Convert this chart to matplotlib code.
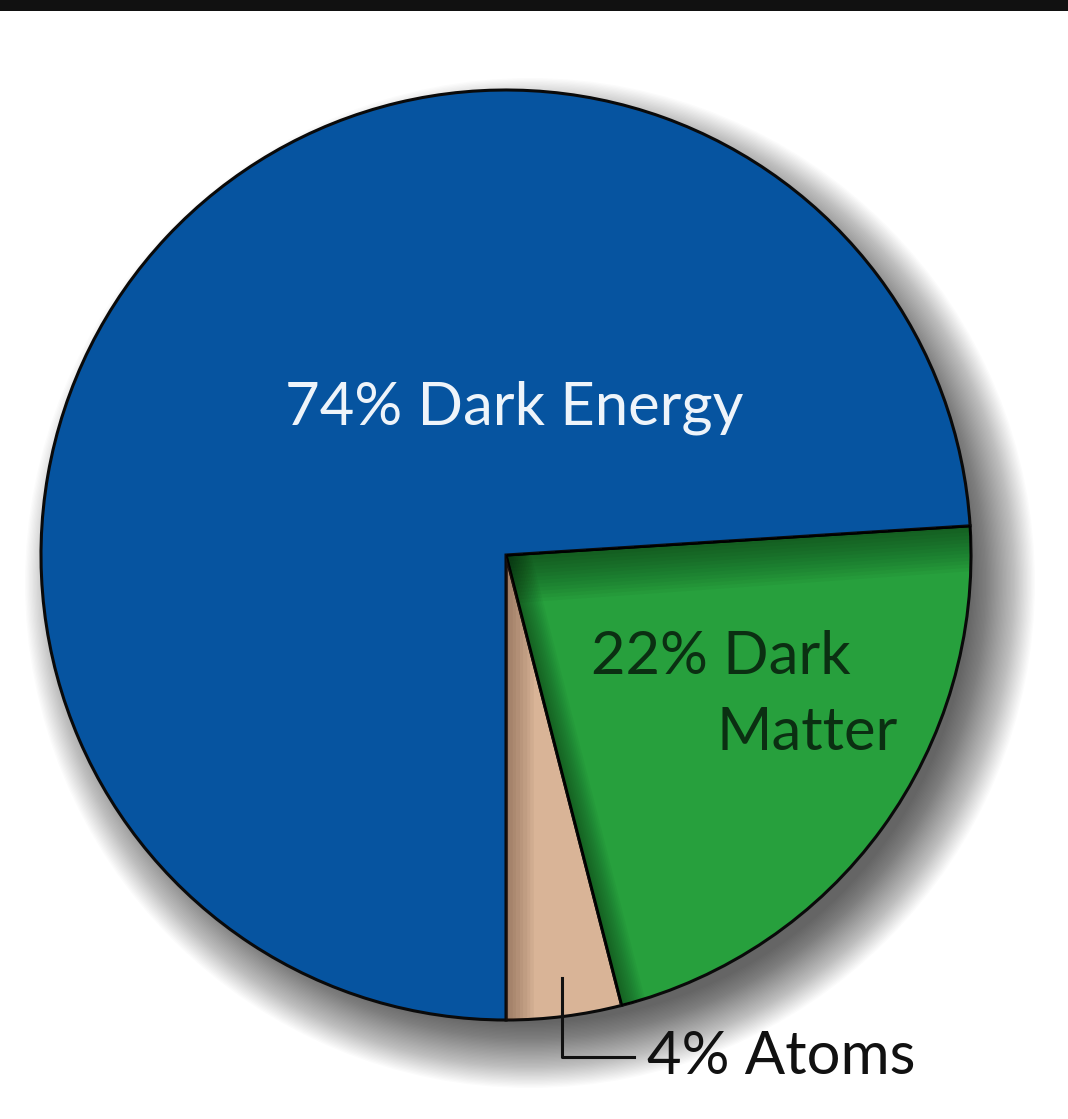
import numpy as np
import matplotlib.pyplot as plt
from matplotlib.patches import Circle, Rectangle

labels = ['4% Atoms', '22% Dark\nMatter', '74% Dark Energy']
shares = [4, 22, 74]
colors = ['#d9b497', '#27a03d', '#0654a0']

W, H = 1068, 1119
cx, cy, r = 506, H - 555, 465

fig = plt.figure(figsize=(W / 100, H / 100), dpi=100)
ax = fig.add_axes([0, 0, 1, 1])

# soft drop shadow toward the lower right
for k in np.linspace(-25, 40, 50):
    ax.add_patch(Circle((cx + 24, cy - 28), r + k, color='black', alpha=0.016, lw=0, zorder=0))

wedges, _ = ax.pie(shares, colors=colors, startangle=-90, counterclock=True,
                   center=(cx, cy), radius=r, frame=True,
                   wedgeprops=dict(edgecolor='#0a0a0a', linewidth=2.2))
ax.set_xlim(0, W)
ax.set_ylim(0, H)
ax.axis('off')
for w in wedges:
    w.set_zorder(2)

# darker shading inside the green wedge along its straight edges
green = wedges[1]
a_top, a_side = 4, -75.6
for lw in np.linspace(4, 70, 14):
    ln, = ax.plot([cx, cx + r * 1.05 * np.cos(np.radians(a_top))],
                  [cy, cy + r * 1.05 * np.sin(np.radians(a_top))],
                  color='black', lw=lw, alpha=0.035, zorder=3, solid_capstyle='butt')
    ln.set_clip_path(green)
    ln2, = ax.plot([cx, cx + r * 1.05 * np.cos(np.radians(a_side))],
                   [cy, cy + r * 1.05 * np.sin(np.radians(a_side))],
                   color='black', lw=lw * 0.5, alpha=0.03, zorder=3, solid_capstyle='butt')
    ln2.set_clip_path(green)

# slight darkening on the left of the atoms wedge
tan = wedges[0]
for lw in np.linspace(4, 40, 8):
    ln3, = ax.plot([cx, cx], [cy, cy - r * 1.05], color='#3a2010', lw=lw, alpha=0.05,
                   zorder=3, solid_capstyle='butt')
    ln3.set_clip_path(tan)

font = 'Lato'
ax.text(514, H - 408, labels[2], color='#eef4fa', fontsize=43, family=font,
        ha='center', va='center', zorder=5)
ax.text(721, H - 657, '22% Dark', color='#0b2f12', fontsize=43, family=font,
        ha='center', va='center', zorder=5)
ax.text(807, H - 733, 'Matter', color='#0b2f12', fontsize=43, family=font,
        ha='center', va='center', zorder=5)
ax.text(781, H - 1057, labels[0], color='#111111', fontsize=43, family=font,
        ha='center', va='center', zorder=5)

# leader line for the atoms slice
ax.plot([562, 562, 634], [H - 978, H - 1057, H - 1057], color='#111111', lw=2.2, zorder=5)

# dark strip at the very top
ax.add_patch(Rectangle((0, H - 11), W, 11, color='#111111', lw=0, zorder=6))

fig.savefig('out.png', dpi=100)
